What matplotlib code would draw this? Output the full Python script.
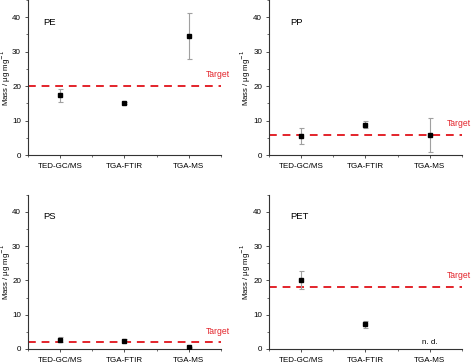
import matplotlib
matplotlib.use("Agg")
import matplotlib.pyplot as plt
from matplotlib.ticker import MultipleLocator

plt.rcParams['font.family'] = ['Liberation Sans', 'DejaVu Sans']

methods = ["TED-GC/MS", "TGA-FTIR", "TGA-MS"]
polymers = ["PE", "PP", "PS", "PET"]

# mean mass and error (µg/mg) per method, None = not detected
pe_mean = [17.3, 15.0, 34.5]
pe_err = [1.9, 0.3, 6.7]
pp_mean = [5.5, 8.8, 5.8]
pp_err = [2.4, 1.0, 4.8]
ps_mean = [2.7, 2.4, 0.5]
ps_err = [0.8, 0.5, 0.2]
pet_mean = [20.1, 7.2, None]
pet_err = [2.6, 1.1, None]

targets = [20.0, 5.7, 1.9, 18.0]

means = [pe_mean, pp_mean, ps_mean, pet_mean]
errs = [pe_err, pp_err, ps_err, pet_err]

# axes rectangles in figure fractions
rects = [
    [0.059, 0.573, 0.407, 0.427],
    [0.5675, 0.573, 0.407, 0.427],
    [0.059, 0.0386, 0.407, 0.425],
    [0.5675, 0.0386, 0.407, 0.425],
]
name_x = [0.08, 0.11, 0.08, 0.11]
label_x = [-0.078, -0.085, -0.078, -0.085]

fig = plt.figure(figsize=(4.74, 3.63), dpi=100)

for i, name in enumerate(polymers):
    ax = fig.add_axes(rects[i])
    xs = [k + 1 for k, m in enumerate(means[i]) if m is not None]
    ys = [m for m in means[i] if m is not None]
    es = [e for e in errs[i] if e is not None]

    ax.axhline(targets[i], color="#e3242b", ls=(0, (4, 3)), lw=1.4, zorder=1)
    ax.errorbar(xs, ys, yerr=es, fmt="s", color="black", ms=3.5,
                ecolor="#a0a0a0", elinewidth=0.8, capsize=1.8, capthick=0.8, zorder=3)
    ax.text(3.27, targets[i] + 2.0, "Target", color="#e3242b", fontsize=6.2,
            ha="left", va="bottom", clip_on=False)
    ax.text(name_x[i], 0.84, name, transform=ax.transAxes, fontsize=6.8)

    if i == 3:
        ax.text(3.0, 1.0, "n. d.", fontsize=5.8, ha="center", va="bottom")

    ax.set_xlim(0.5, 3.5)
    ax.set_ylim(0, 45)
    ax.set_xticks([1, 2, 3])
    ax.set_xticklabels(methods)
    ax.xaxis.set_minor_locator(MultipleLocator(0.5))
    ax.set_yticks([0, 10, 20, 30, 40])
    ax.yaxis.set_minor_locator(MultipleLocator(5))
    ax.spines["top"].set_visible(False)
    ax.spines["right"].set_visible(False)
    for sp in ("left", "bottom"):
        ax.spines[sp].set_linewidth(0.8)
        ax.spines[sp].set_color("#333333")
    ax.tick_params(axis="both", which="major", labelsize=5.8, length=2.5,
                   width=0.6, pad=2.5, colors="#333333", labelcolor="black")
    ax.tick_params(axis="both", which="minor", length=1.5, width=0.5, colors="#333333")
    ax.tick_params(axis="x", which="major", pad=3)
    ax.set_ylabel("Mass / µg mg$^{-1}$", fontsize=5.6)
    ax.yaxis.set_label_coords(label_x[i], 0.5)

fig.savefig("out.png", dpi=100)
